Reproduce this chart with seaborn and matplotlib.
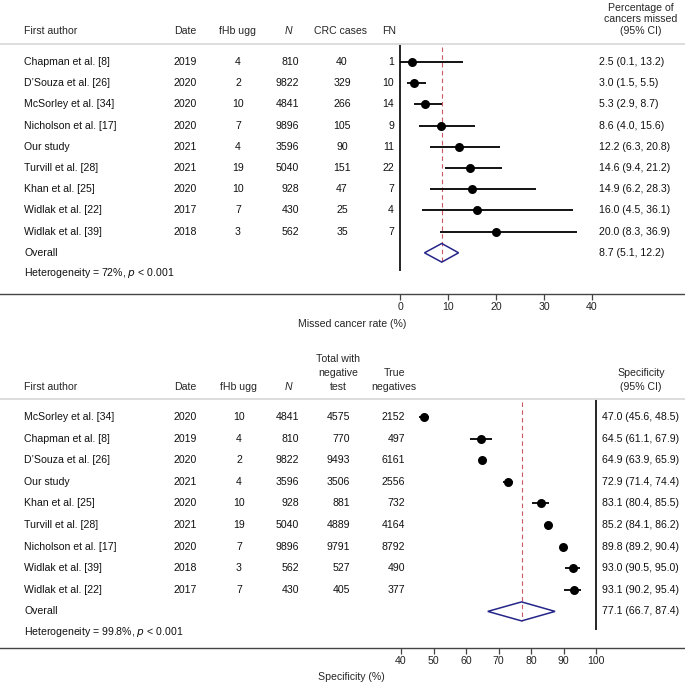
import matplotlib
matplotlib.use("Agg")
import matplotlib.pyplot as plt
import matplotlib.transforms as mtransforms
import seaborn as sns
import pandas as pd

# ---- panel 1: missed cancers ----
authors1 = ["Chapman et al. [8]", "D\u2019Souza et al. [26]", "McSorley et al. [34]",
            "Nicholson et al. [17]", "Our study", "Turvill et al. [28]",
            "Khan et al. [25]", "Widlak et al. [22]", "Widlak et al. [39]"]
dates1 = [2019, 2020, 2020, 2020, 2021, 2021, 2020, 2017, 2018]
fhb1 = [4, 2, 10, 7, 4, 19, 10, 7, 3]
n1 = [810, 9822, 4841, 9896, 3596, 5040, 928, 430, 562]
crc1 = [40, 329, 266, 105, 90, 151, 47, 25, 35]
fn1 = [1, 10, 14, 9, 11, 22, 7, 4, 7]
est1 = [2.5, 3.0, 5.3, 8.6, 12.2, 14.6, 14.9, 16.0, 20.0]
lo1 = [0.1, 1.5, 2.9, 4.0, 6.3, 9.4, 6.2, 4.5, 8.3]
hi1 = [13.2, 5.5, 8.7, 15.6, 20.8, 21.2, 28.3, 36.1, 36.9]
overall1 = [8.7, 5.1, 12.2]
het1 = "72%"
ticks1 = [0, 10, 20, 30, 40]

# ---- panel 2: specificity ----
authors2 = ["McSorley et al. [34]", "Chapman et al. [8]", "D\u2019Souza et al. [26]",
            "Our study", "Khan et al. [25]", "Turvill et al. [28]",
            "Nicholson et al. [17]", "Widlak et al. [39]", "Widlak et al. [22]"]
dates2 = [2020, 2019, 2020, 2021, 2020, 2021, 2020, 2018, 2017]
fhb2 = [10, 4, 2, 4, 10, 19, 7, 3, 7]
n2 = [4841, 810, 9822, 3596, 928, 5040, 9896, 562, 430]
totneg2 = [4575, 770, 9493, 3506, 881, 4889, 9791, 527, 405]
tn2 = [2152, 497, 6161, 2556, 732, 4164, 8792, 490, 377]
est2 = [47.0, 64.5, 64.9, 72.9, 83.1, 85.2, 89.8, 93.0, 93.1]
lo2 = [45.6, 61.1, 63.9, 71.4, 80.4, 84.1, 89.2, 90.5, 90.2]
hi2 = [48.5, 67.9, 65.9, 74.4, 85.5, 86.2, 90.4, 95.0, 95.4]
overall2 = [77.1, 66.7, 87.4]
het2 = "99.8%"
ticks2 = [40, 50, 60, 70, 80, 90, 100]

sns.set_style("white")
plt.rcParams['font.family'] = ['Liberation Sans', 'DejaVu Sans']
FS = 7.6
W, H = 685, 683
fig = plt.figure(figsize=(W / 100, H / 100), dpi=100)

NAVY = "#25258a"
RED = "#cc5566"


def fy(px):
    return 1 - px / H


def make_panel(top_px, bottom_px, row0_px, step, x0_px, x0_val, ppu):
    ax = fig.add_axes([0, fy(bottom_px), 1, (bottom_px - top_px) / H])
    ax.set_xlim(x0_val - x0_px / ppu, x0_val + (W - x0_px) / ppu)
    ax.set_ylim((bottom_px - row0_px) / step, (top_px - row0_px) / step)
    for s in ["top", "left", "right"]:
        ax.spines[s].set_visible(False)
    ax.spines["bottom"].set_color("#444444")
    ax.spines["bottom"].set_linewidth(1.0)
    ax.set_yticks([])
    ax.tick_params(axis="x", bottom=True, direction="out", length=4, width=0.9, pad=2,
                   labelsize=FS, color="#444444", labelcolor="#222222")
    return ax


def draw_forest(ax, est, lo, hi, overall, ref_x, ref_top, ref_bottom):
    df = pd.DataFrame({"row": range(len(est)), "est": est, "lo": lo, "hi": hi})
    ax.hlines(df["row"], df["lo"], df["hi"], color="black", lw=1.3, zorder=2)
    sns.scatterplot(data=df, x="est", y="row", ax=ax, color="black", s=42,
                    edgecolor="black", linewidth=0, zorder=3, legend=False)
    r = len(est)
    e, l, h = overall
    ax.fill([l, e, h, e, l], [r, r - 0.44, r, r + 0.44, r], facecolor="none",
            edgecolor=NAVY, lw=1.1, zorder=3)
    ax.vlines(e, -0.7, r + 0.44, color=RED, lw=0.8, linestyles=(0, (4, 3)), zorder=1)
    ax.vlines(ref_x, ref_top, ref_bottom, color="black", lw=1.2, zorder=2)
    ax.set_xlabel("")
    ax.set_ylabel("")


def row_text(ax, xpx, row, s, ha="left"):
    tr = mtransforms.blended_transform_factory(ax.transAxes, ax.transData)
    ax.text(xpx / W, row, s, transform=tr, ha=ha, va="center", fontsize=FS,
            color="#111111")


# ---------- panel 1 ----------
ax1 = make_panel(0, 294, 62, 21.2, 400, 0, 4.8)
draw_forest(ax1, est1, lo1, hi1, overall1, 0, -0.85, 9.85)
ax1.set_xticks(ticks1)
ax1.axhline(-0.85, color="#dddddd", lw=1.4)

for i in range(len(authors1)):
    row_text(ax1, 24, i, authors1[i])
    row_text(ax1, 174, i, str(dates1[i]))
    row_text(ax1, 238, i, str(fhb1[i]), ha="center")
    row_text(ax1, 299, i, str(n1[i]), ha="right")
    row_text(ax1, 342, i, str(crc1[i]), ha="center")
    row_text(ax1, 394, i, str(fn1[i]), ha="right")
    row_text(ax1, 599, i, f"{est1[i]:.1f} ({lo1[i]:.1f}, {hi1[i]:.1f})")
row_text(ax1, 24, 9, "Overall")
row_text(ax1, 599, 9, f"{overall1[0]:.1f} ({overall1[1]:.1f}, {overall1[2]:.1f})")
row_text(ax1, 24, 9.95, "Heterogeneity = " + het1 + ", $\\it{p}$ < 0.001")

hdr_y = 31
fig.text(24 / W, fy(hdr_y), "First author", fontsize=FS, va="center")
fig.text(174 / W, fy(hdr_y), "Date", fontsize=FS, va="center")
fig.text(237 / W, fy(hdr_y), "fHb ugg", fontsize=FS, va="center", ha="center")
fig.text(288 / W, fy(hdr_y), "N", fontsize=FS, va="center", ha="center", style="italic")
fig.text(340 / W, fy(hdr_y), "CRC cases", fontsize=FS, va="center", ha="center")
fig.text(389 / W, fy(hdr_y), "FN", fontsize=FS, va="center", ha="center")
fig.text(641 / W, fy(8), "Percentage of", fontsize=FS, va="center", ha="center")
fig.text(641 / W, fy(19.5), "cancers missed", fontsize=FS, va="center", ha="center")
fig.text(641 / W, fy(31), "(95% CI)", fontsize=FS, va="center", ha="center")
fig.text(352 / W, fy(324), "Missed cancer rate (%)", fontsize=FS, va="center", ha="center")

# ---------- panel 2 ----------
ax2 = make_panel(345, 648, 417, 21.6, 401, 40, 3.25)
draw_forest(ax2, est2, lo2, hi2, overall2, 100, -0.85, 9.85)
ax2.set_xticks(ticks2)
ax2.axhline(-0.85, color="#dddddd", lw=1.4)

for i in range(len(authors2)):
    row_text(ax2, 24, i, authors2[i])
    row_text(ax2, 174, i, str(dates2[i]))
    row_text(ax2, 239, i, str(fhb2[i]), ha="center")
    row_text(ax2, 299, i, str(n2[i]), ha="right")
    row_text(ax2, 350, i, str(totneg2[i]), ha="right")
    row_text(ax2, 405, i, str(tn2[i]), ha="right")
    row_text(ax2, 602, i, f"{est2[i]:.1f} ({lo2[i]:.1f}, {hi2[i]:.1f})")
row_text(ax2, 24, 9, "Overall")
row_text(ax2, 602, 9, f"{overall2[0]:.1f} ({overall2[1]:.1f}, {overall2[2]:.1f})")
row_text(ax2, 24, 9.95, "Heterogeneity = " + het2 + ", $\\it{p}$ < 0.001")

hdr2 = 387
fig.text(24 / W, fy(hdr2), "First author", fontsize=FS, va="center")
fig.text(174 / W, fy(hdr2), "Date", fontsize=FS, va="center")
fig.text(238 / W, fy(hdr2), "fHb ugg", fontsize=FS, va="center", ha="center")
fig.text(288 / W, fy(hdr2), "N", fontsize=FS, va="center", ha="center", style="italic")
fig.text(338 / W, fy(359), "Total with", fontsize=FS, va="center", ha="center")
fig.text(338 / W, fy(373), "negative", fontsize=FS, va="center", ha="center")
fig.text(338 / W, fy(387), "test", fontsize=FS, va="center", ha="center")
fig.text(394 / W, fy(373), "True", fontsize=FS, va="center", ha="center")
fig.text(394 / W, fy(387), "negatives", fontsize=FS, va="center", ha="center")
fig.text(641 / W, fy(373), "Specificity", fontsize=FS, va="center", ha="center")
fig.text(641 / W, fy(387), "(95% CI)", fontsize=FS, va="center", ha="center")
fig.text(351 / W, fy(677), "Specificity (%)", fontsize=FS, va="center", ha="center")

fig.savefig("out.png", dpi=100)
